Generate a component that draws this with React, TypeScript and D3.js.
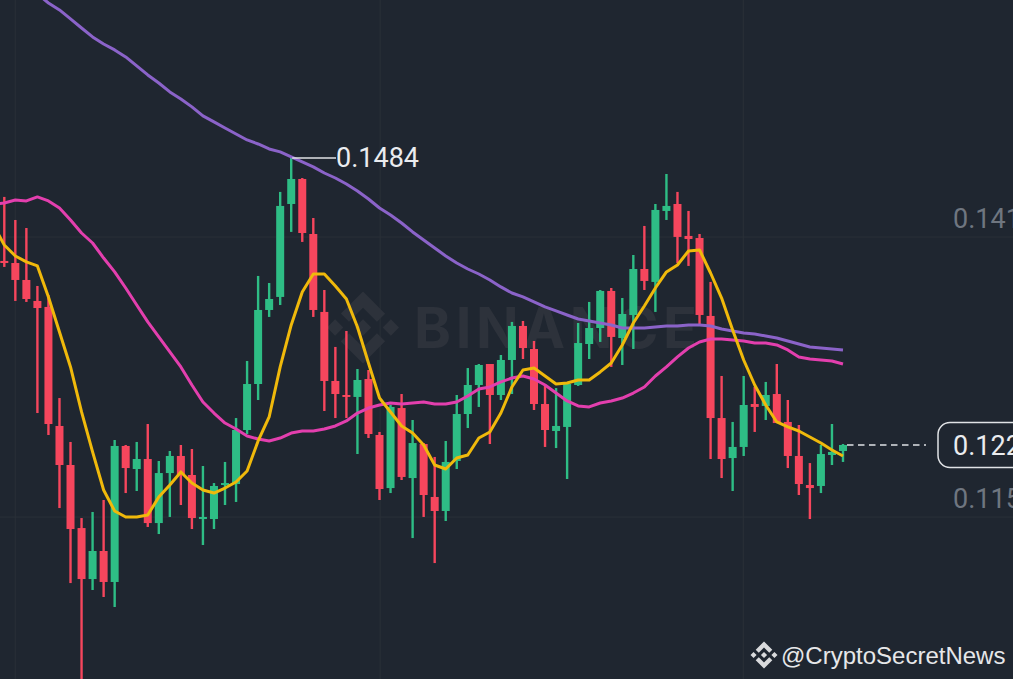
import { useEffect, useRef } from "react";
import * as d3 from "d3";

const WIDTH = 1013;
const HEIGHT = 679;

// first entry sits just left of the visible area
const highs = [0.1427,0.14482,0.1427,0.14196,0.13663,0.1358,0.12632,0.12228,0.11528,0.11584,0.11694,0.12246,0.122,0.12228,0.12393,0.12053,0.12145,0.122,0.12163,0.12007,0.1185,0.12044,0.12448,0.12973,0.13755,0.1369,0.14528,0.1484,0.14656,0.14288,0.13626,0.13102,0.13249,0.12899,0.1289,0.1232,0.12568,0.12669,0.1243,0.12218,0.1209,0.12237,0.1266,0.12908,0.12945,0.12945,0.13028,0.13332,0.13341,0.13157,0.12752,0.12724,0.1277,0.13322,0.13516,0.13626,0.13644,0.13552,0.13948,0.14215,0.14417,0.14693,0.14528,0.14353,0.14141,0.137,0.12835,0.12412,0.12835,0.12734,0.1278,0.12945,0.12614,0.12384,0.12034,0.122,0.12393,0.12209];
const lows = [0.1381,0.13838,0.13525,0.13516,0.12494,0.12292,0.1162,0.1093,0.09946,0.10866,0.10802,0.1071,0.11758,0.11777,0.11446,0.11381,0.11538,0.11648,0.11427,0.1128,0.11427,0.11648,0.11676,0.12301,0.12614,0.13378,0.13488,0.1416,0.14068,0.13378,0.12513,0.12448,0.12448,0.12117,0.12264,0.11694,0.11758,0.11878,0.11344,0.11538,0.11114,0.11501,0.11979,0.12356,0.1255,0.12209,0.12614,0.12669,0.12991,0.12522,0.12182,0.12172,0.11887,0.12743,0.12991,0.13148,0.12918,0.12936,0.13083,0.13626,0.13424,0.1427,0.13874,0.13847,0.13304,0.12071,0.11896,0.11777,0.12099,0.1232,0.1243,0.12402,0.11988,0.1174,0.11519,0.11758,0.12016,0.12044];
const opens = [0.14086,0.13893,0.13874,0.13718,0.13525,0.1347,0.12375,0.12016,0.11436,0.10967,0.11225,0.1094,0.12191,0.11979,0.12071,0.11482,0.11942,0.12099,0.11924,0.11519,0.11519,0.11832,0.11841,0.12338,0.12761,0.13442,0.13562,0.14417,0.14647,0.14141,0.13424,0.12789,0.1266,0.12642,0.12807,0.12292,0.11804,0.1254,0.11896,0.12209,0.11722,0.11593,0.12053,0.12485,0.12752,0.12945,0.1266,0.12982,0.13295,0.13083,0.12577,0.12329,0.12366,0.12752,0.13129,0.13276,0.13617,0.13184,0.13396,0.13819,0.137,0.14353,0.14417,0.14123,0.14104,0.13387,0.12448,0.1208,0.12182,0.12577,0.12559,0.12669,0.12412,0.12099,0.11832,0.11823,0.12108,0.12145];
const closes = [0.13902,0.13874,0.13718,0.13543,0.1346,0.12393,0.12016,0.11427,0.10967,0.11225,0.1094,0.12191,0.11988,0.12071,0.11482,0.11942,0.12099,0.11924,0.11528,0.11538,0.11823,0.1185,0.12338,0.12761,0.13442,0.13543,0.14399,0.14647,0.1415,0.13442,0.12789,0.12669,0.12642,0.12798,0.12301,0.11795,0.1255,0.11906,0.12218,0.1174,0.11593,0.12044,0.12485,0.12752,0.12936,0.1266,0.12982,0.13295,0.13092,0.12577,0.12338,0.12375,0.12761,0.13138,0.13276,0.13617,0.13194,0.13405,0.13819,0.13709,0.14362,0.14399,0.14114,0.14095,0.13396,0.12448,0.12071,0.12182,0.12568,0.1255,0.1266,0.12402,0.12099,0.11841,0.11804,0.12117,0.12136,0.122];

const ma7 = [0.14224,0.1404,0.13939,0.13884,0.13847,0.13562,0.1324,0.12918,0.12504,0.12136,0.11786,0.11593,0.11538,0.11538,0.11556,0.11722,0.11832,0.11952,0.1185,0.11786,0.11758,0.11804,0.1186,0.11961,0.12237,0.12458,0.12918,0.13304,0.13608,0.13773,0.13773,0.13663,0.13543,0.13286,0.12954,0.12632,0.12504,0.12375,0.1231,0.122,0.12016,0.11979,0.1208,0.12108,0.12264,0.1232,0.12494,0.12734,0.1289,0.12908,0.12835,0.12761,0.1277,0.12798,0.12798,0.12872,0.12954,0.1312,0.13322,0.13479,0.13644,0.13792,0.13856,0.13985,0.13994,0.13782,0.13552,0.13258,0.12982,0.12752,0.12568,0.12412,0.12366,0.12329,0.12274,0.12218,0.12154,0.12099];
const ma25 = [0.14417,0.14426,0.14454,0.14445,0.14482,0.14445,0.1438,0.1427,0.1415,0.14058,0.1392,0.13792,0.13644,0.13488,0.13332,0.13194,0.13056,0.12918,0.12752,0.12596,0.12494,0.12402,0.12347,0.12283,0.12255,0.12237,0.12264,0.1231,0.12329,0.12329,0.12347,0.12375,0.12421,0.12494,0.1254,0.12568,0.12586,0.12577,0.12586,0.12596,0.12577,0.12577,0.12596,0.12651,0.12715,0.12734,0.1278,0.12816,0.12835,0.12807,0.12752,0.12678,0.12605,0.12559,0.1255,0.12586,0.12605,0.12632,0.12678,0.12734,0.12835,0.12918,0.1301,0.13092,0.13148,0.13175,0.13175,0.13166,0.13157,0.13138,0.13138,0.1312,0.13074,0.1301,0.12991,0.12982,0.12973,0.12945];
const ma99 = [0.1668,0.16598,0.16515,0.16432,0.16349,0.16266,0.16202,0.16119,0.16036,0.15954,0.15889,0.15834,0.1577,0.15687,0.15604,0.1553,0.15448,0.15383,0.1531,0.15227,0.15172,0.15116,0.15061,0.15006,0.14969,0.14923,0.14896,0.1485,0.14804,0.14758,0.14702,0.14656,0.14601,0.14537,0.14463,0.1438,0.14316,0.14242,0.1416,0.14086,0.14012,0.13939,0.13874,0.13819,0.13773,0.13718,0.13654,0.13598,0.13562,0.13516,0.1347,0.13433,0.13396,0.13359,0.13341,0.13322,0.13304,0.13276,0.13276,0.13276,0.13286,0.13295,0.13295,0.13304,0.13304,0.13295,0.13267,0.13249,0.1323,0.13221,0.13203,0.13184,0.13157,0.13129,0.13102,0.13092,0.13083,0.13074];

const priceTicks = [0.14113, 0.11537];
const highPrice = 0.1484;
const lastPrice = 0.122;

const GREEN = "#2ebd85";
const RED = "#f6465d";
const BG = "#1f2630";
const GRID = "#2a3038";
const WATERMARK = "#2d323b";

const BNB_PATH =
  "M38.73 53.2l24.59-24.58 24.6 24.6 14.3-14.31L63.32 0 24.42 38.9zM0 63.31l14.3-14.31 14.31 14.31-14.31 14.3zM38.73 73.41l24.59 24.59 24.6-24.6 14.31 14.29-38.9 38.91-38.91-38.88-.02-.02zM98 63.31l14.3-14.31 14.31 14.3-14.31 14.32zM77.83 63.3L63.32 48.78 52.59 59.51l-1.24 1.23-2.54 2.54 14.51 14.5 14.51-14.47z";

export default function App() {
  const svgRef = useRef<SVGSVGElement>(null);

  useEffect(() => {
    if (!svgRef.current) return;
    document.body.style.margin = "0";
    document.body.style.background = BG;

    const svg = d3.select(svgRef.current);
    svg.selectAll("*").remove();
    svg.attr("width", WIDTH).attr("height", HEIGHT);

    svg.append("rect").attr("width", WIDTH).attr("height", HEIGHT).attr("fill", BG);

    const index = d3.range(highs.length);
    const xScale = d3.scaleLinear().domain([1, 77]).range([4.3, 843]);
    const yScale = d3.scaleLinear().domain([highPrice, lastPrice]).range([158, 445]);

    // Grid
    priceTicks.forEach((p) => {
      svg.append("line")
        .attr("x1", 0).attr("x2", WIDTH)
        .attr("y1", yScale(p)).attr("y2", yScale(p))
        .attr("stroke", GRID).attr("stroke-width", 1);
    });
    [1.99, 35.06, 67.96].forEach((i) => {
      svg.append("line")
        .attr("x1", xScale(i)).attr("x2", xScale(i))
        .attr("y1", 0).attr("y2", HEIGHT)
        .attr("stroke", GRID).attr("stroke-width", 1);
    });

    // Watermark
    const wmSize = 72;
    svg.append("path")
      .attr("d", BNB_PATH)
      .attr("transform", `translate(327,291.5) scale(${wmSize / 126.61})`)
      .attr("fill", WATERMARK);
    svg.append("text")
      .attr("x", 414).attr("y", 348)
      .attr("textLength", 283).attr("lengthAdjust", "spacing")
      .attr("fill", WATERMARK)
      .style("font-family", "Inter").style("font-weight", "700").style("font-size", "56px")
      .text("BINANCE");

    // Candles
    const color = (i: number) => (closes[i] >= opens[i] ? GREEN : RED);

    svg.append("g").selectAll("line")
      .data(index)
      .join("line")
      .attr("x1", (i) => xScale(i)).attr("x2", (i) => xScale(i))
      .attr("y1", (i) => yScale(highs[i])).attr("y2", (i) => yScale(lows[i]))
      .attr("stroke", color).attr("stroke-width", 2.4);

    svg.append("g").selectAll("rect")
      .data(index)
      .join("rect")
      .attr("x", (i) => xScale(i) - 4)
      .attr("y", (i) => yScale(Math.max(opens[i], closes[i])))
      .attr("width", 8)
      .attr("height", (i) => Math.max(1.5, Math.abs(yScale(opens[i]) - yScale(closes[i]))))
      .attr("fill", color);

    // Moving averages
    const line = d3.line<number>()
      .x((_, i) => xScale(i))
      .y((d) => yScale(d));

    [
      { values: ma99, stroke: "#8b63c9" },
      { values: ma25, stroke: "#e33fae" },
      { values: ma7, stroke: "#f0b90b" },
    ].forEach((s) => {
      svg.append("path")
        .attr("d", line(s.values))
        .attr("fill", "none")
        .attr("stroke", s.stroke)
        .attr("stroke-width", 3)
        .attr("stroke-linejoin", "round");
    });

    // Price labels on the right, cut by the edge as in the source screenshot
    const sans = "Roboto";
    priceTicks.forEach((p) => {
      svg.append("text")
        .attr("x", 953).attr("y", yScale(p) - 9)
        .attr("fill", "#6f7680")
        .style("font-family", sans).style("font-size", "27px")
        .text(d3.format(".3f")(p));
    });

    // Highest price marker
    const yHigh = yScale(highPrice);
    svg.append("line")
      .attr("x1", xScale(27) + 1).attr("x2", 336)
      .attr("y1", yHigh).attr("y2", yHigh)
      .attr("stroke", "#e0e2e5").attr("stroke-width", 1.5);
    svg.append("text")
      .attr("x", 336).attr("y", yHigh + 8.5)
      .attr("fill", "#eaecef")
      .style("font-family", sans).style("font-size", "27px")
      .text(d3.format(".4f")(highPrice));

    // Last price
    const yLast = yScale(lastPrice);
    svg.append("line")
      .attr("x1", 847).attr("x2", 926)
      .attr("y1", yLast).attr("y2", yLast)
      .attr("stroke", "#e0e2e5").attr("stroke-width", 1.5)
      .attr("stroke-dasharray", "6.5,4.5");
    svg.append("rect")
      .attr("x", 938).attr("y", yLast - 22.5)
      .attr("width", 110).attr("height", 45)
      .attr("rx", 12)
      .attr("fill", BG)
      .attr("stroke", "#e0e2e5").attr("stroke-width", 1.5);
    svg.append("text")
      .attr("x", 953).attr("y", yLast + 10)
      .attr("fill", "#eaecef")
      .style("font-family", sans).style("font-size", "27px")
      .text(d3.format(".3f")(lastPrice));

    // Footer tag
    svg.append("path")
      .attr("d", BNB_PATH)
      .attr("transform", `translate(750.5,641.5) scale(${27 / 126.61})`)
      .attr("fill", "#d9dadc");
    svg.append("text")
      .attr("x", 781).attr("y", 664)
      .attr("fill", "#e6e7e9")
      .style("font-family", "'Liberation Sans'").style("font-size", "24px")
      .text("@CryptoSecretNews");
  }, []);

  return <svg ref={svgRef} style={{ display: "block" }} />;
}
